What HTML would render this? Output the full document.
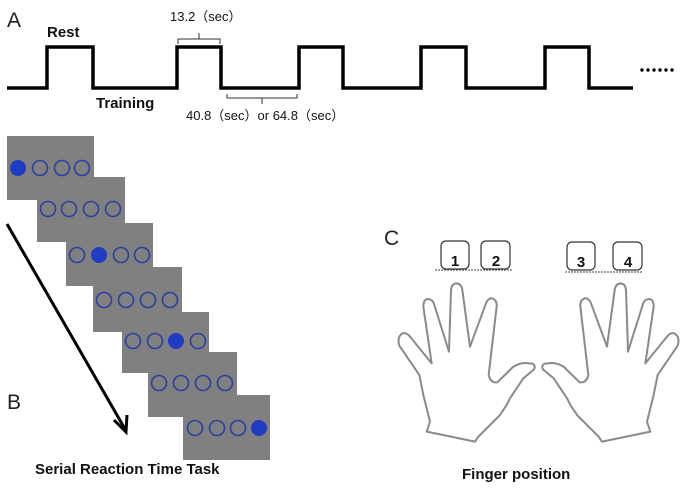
<!DOCTYPE html>
<html><head><meta charset="utf-8"><style>
html,body{margin:0;padding:0;background:#fff;}
svg{display:block;}
text{font-family:"Liberation Sans","Noto Sans CJK SC",sans-serif;}
</style></head><body>
<svg width="685" height="489" viewBox="0 0 685 489" xmlns="http://www.w3.org/2000/svg">
<!-- Panel A -->
<text x="7" y="27" font-size="21" fill="#222">A</text>
<text x="47" y="37" font-size="15" font-weight="bold" fill="#111">Rest</text>
<text x="96" y="108" font-size="15" font-weight="bold" fill="#111">Training</text>
<polyline fill="none" stroke="#000" stroke-width="3.5" stroke-linejoin="miter"
 points="7,88 47,88 47,47 93,47 93,88 177,88 177,47 221,47 221,88 299,88 299,47 343,47 343,88 421,88 421,47 466,47 466,88 545,88 545,47 589,47 589,88 633,88"/>
<g fill="#000">
<circle cx="642" cy="70" r="1.7"/><circle cx="648" cy="70" r="1.7"/><circle cx="654" cy="70" r="1.7"/>
<circle cx="660" cy="70" r="1.7"/><circle cx="666" cy="70" r="1.7"/><circle cx="672" cy="70" r="1.7"/>
</g>
<path d="M178,44 L178,39 L220,39 L220,44 M199,39 L199,33" fill="none" stroke="#333" stroke-width="1"/>
<text x="170" y="21" font-size="13" fill="#111">13.2（sec）</text>
<path d="M227,94 L227,98 L297,98 L297,94 M262,98 L262,104" fill="none" stroke="#333" stroke-width="1"/>
<text x="186" y="120" font-size="13" fill="#111">40.8（sec）or 64.8（sec）</text>

<!-- Panel B -->
<g fill="#808080">
<rect x="7" y="136" width="87" height="64"/>
<rect x="37" y="177" width="88" height="65"/>
<rect x="66" y="223" width="87" height="63"/>
<rect x="93" y="267" width="89" height="65"/>
<rect x="122" y="312" width="87" height="61"/>
<rect x="148" y="352" width="89" height="65"/>
<rect x="183" y="395" width="87" height="65"/>
</g>
<g fill="none" stroke="#2b3f9e" stroke-width="1.6">
<circle cx="40" cy="168" r="7.5"/><circle cx="62" cy="168" r="7.5"/><circle cx="82" cy="168" r="7.5"/>
<circle cx="48" cy="209" r="7.5"/><circle cx="69" cy="209" r="7.5"/><circle cx="91" cy="209" r="7.5"/><circle cx="113" cy="209" r="7.5"/>
<circle cx="77" cy="255" r="7.5"/><circle cx="121" cy="255" r="7.5"/><circle cx="142" cy="255" r="7.5"/>
<circle cx="104" cy="300" r="7.5"/><circle cx="126" cy="300" r="7.5"/><circle cx="148" cy="300" r="7.5"/><circle cx="170" cy="300" r="7.5"/>
<circle cx="133" cy="341" r="7.5"/><circle cx="155" cy="341" r="7.5"/><circle cx="198" cy="341" r="7.5"/>
<circle cx="159" cy="383" r="7.5"/><circle cx="181" cy="383" r="7.5"/><circle cx="203" cy="383" r="7.5"/><circle cx="225" cy="383" r="7.5"/>
<circle cx="195" cy="428" r="7.5"/><circle cx="217" cy="428" r="7.5"/><circle cx="238" cy="428" r="7.5"/>
</g>
<g fill="#1f3cc2">
<circle cx="18" cy="168" r="8"/><circle cx="99" cy="255" r="8"/><circle cx="176" cy="341" r="8"/><circle cx="259" cy="428" r="8"/>
</g>
<line x1="7" y1="224" x2="125" y2="429" stroke="#000" stroke-width="3"/>
<polyline points="114,420 126,432 127,415" fill="none" stroke="#000" stroke-width="3"/>
<text x="7" y="409" font-size="21" fill="#222">B</text>
<text x="35" y="474" font-size="15" font-weight="bold" fill="#111">Serial Reaction Time Task</text>

<!-- Panel C -->
<text x="384" y="245" font-size="21" fill="#222">C</text>
<g fill="#fff" stroke="#333" stroke-width="1.2">
<rect x="441" y="241" width="28" height="28" rx="5"/>
<rect x="481" y="241" width="29" height="28" rx="5"/>
<rect x="567" y="242" width="28" height="28" rx="5"/>
<rect x="613" y="242" width="29" height="28" rx="5"/>
</g>
<g font-size="15" font-weight="bold" fill="#111" text-anchor="middle">
<text x="455" y="266">1</text><text x="496" y="266">2</text>
<text x="581" y="267">3</text><text x="628" y="267">4</text>
</g>
<line x1="435" y1="270" x2="513" y2="270" stroke="#444" stroke-width="1" stroke-dasharray="2,1"/>
<line x1="565" y1="272" x2="643" y2="272" stroke="#444" stroke-width="1" stroke-dasharray="2,1"/>
<defs>
<path id="lh" d="M110,470 L120,440 L100,360 L88,300 L28,212 Q20,185 38,175 Q50,172 60,185 L125,265 L100,95 Q100,72 115,72 Q130,74 133,90 L177,230 L183,45 Q185,25 200,25 Q215,27 217,45 L240,215 L288,85 Q295,68 307,70 Q322,76 320,95 L296,300 Q302,325 322,322 L360,285 Q375,266 405,264 L428,266 Q440,275 430,285 L400,310 L360,370 L350,390 L330,420 L265,485 L255,500 Z"/>
</defs>
<g fill="none" stroke="#8a8a8a" stroke-width="6" stroke-linejoin="round">
<use href="#lh" transform="translate(390,275) scale(0.3333)"/>
<use href="#lh" transform="translate(687,275) scale(-0.3333,0.3333)"/>
</g>
<text x="462" y="479" font-size="15" font-weight="bold" fill="#111">Finger position</text>
</svg>
</body></html>
